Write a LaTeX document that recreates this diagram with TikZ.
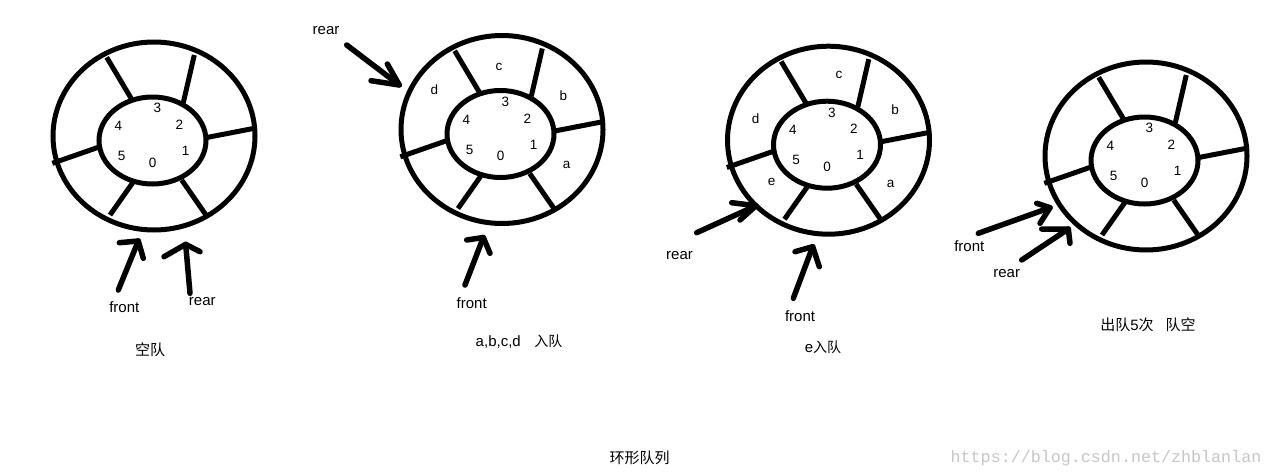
\documentclass[tikz,border=0pt]{standalone}
\usepackage{fontspec}
\setmainfont{Liberation Sans}
\newfontfamily\cjk{Noto Sans CJK SC}
\newfontfamily\wmfont{Liberation Mono}
\newcommand\ringdraw[3]{%
  \begin{scope}[shift={(#2,#3)}]
    \draw[ringline] (154,136) ellipse [x radius=101, y radius=94];
    \draw[ringline] (152.5,140.5) ellipse [x radius=53.5, y radius=43.5];
    \draw[spoke] (106.7,57.3) -- (132.7,101);
    \draw[spoke] (194.3,55) -- (183.3,102.7);
    \draw[spoke] (205.7,137.7) -- (254.3,128.3);
    \draw[spoke] (52.3,163.3) -- (100,146.7);
    \draw[spoke] (132.7,182.7) -- (110,215);
    \draw[spoke] (181.7,180) -- (206,215);
    \node[num] (#1-3) at (157.3,108.3) {3};
    \node[num] (#1-4) at (118.3,126) {4};
    \node[num] (#1-2) at (179.3,125) {2};
    \node[num] (#1-1) at (185.7,151) {1};
    \node[num] (#1-5) at (121.7,156) {5};
    \node[num] (#1-0) at (152.7,162.7) {0};
  \end{scope}}
\newcommand\hdarrow[1]{%
  \draw[arrowline] (#1-tail) -- (#1-tip);
  \draw[arrowline] (#1-a1) -- (#1-tip) -- (#1-a2);}
\begin{document}
\begin{tikzpicture}[x=1pt,y=-1pt,
  ringline/.style={line width=5pt},
  spoke/.style={line width=5pt},
  arrowline/.style={line width=5.5pt, line join=round, line cap=round},
  num/.style={font=\fontsize{13.5}{16}\selectfont, inner sep=0pt},
  lbl/.style={font=\fontsize{15}{18}\selectfont, inner sep=0pt},
  captxt/.style={font=\fontsize{15}{18}\selectfont, inner sep=0pt},
  wm/.style={font=\wmfont\fontsize{16.7}{20}\selectfont, text=black!22, inner sep=0pt}]
\fill[white] (0,0) rectangle (1271,474);
\path[use as bounding box] (0,0) rectangle (1271,474);

% rings
\ringdraw{r1}{0}{0}
\ringdraw{r2}{348}{-6.5}
\ringdraw{r3}{674.5}{4.2}
\ringdraw{r4}{992}{20}

% letters in ring 2
\node[num] (r2-c) at (499,67.3) {c};
\node[num] (r2-d) at (434.3,90) {d};
\node[num] (r2-b) at (563.3,96) {b};
\node[num] (r2-a) at (566.7,165) {a};
% letters in ring 3
\node[num] (r3-c) at (839,75) {c};
\node[num] (r3-b) at (895,110) {b};
\node[num] (r3-d) at (755.7,119) {d};
\node[num] (r3-e) at (771.7,181.7) {e};
\node[num] (r3-a) at (890.7,184) {a};

% arrow coordinates
\coordinate (f1-tail) at (118.3,290);   \coordinate (f1-tip) at (138.3,241);
\coordinate (f1-a1) at (119.3,242.7);   \coordinate (f1-a2) at (143.3,258.3);
\coordinate (q1-tail) at (190,293.3);   \coordinate (q1-tip) at (185.7,244.3);
\coordinate (q1-a1) at (164,256.7);     \coordinate (q1-a2) at (200,251.7);
\coordinate (q2-tail) at (346.7,45);    \coordinate (q2-tip) at (399.3,85);
\coordinate (q2-a1) at (371,80.7);      \coordinate (q2-a2) at (387.3,64);
\coordinate (f2-tail) at (465,285);     \coordinate (f2-tip) at (483.3,237.5);
\coordinate (f2-a1) at (466.7,240);     \coordinate (f2-a2) at (490,253.3);
\coordinate (q3-tail) at (696.7,232.7); \coordinate (q3-tip) at (756,205.7);
\coordinate (q3-a1) at (731.7,202.7);   \coordinate (q3-a2) at (740,220);
\coordinate (f3-tail) at (793.3,298.3); \coordinate (f3-tip) at (812.7,246.7);
\coordinate (f3-a1) at (795,251.7);     \coordinate (f3-a2) at (819.3,266.7);
\coordinate (f4-tail) at (978.3,233.3); \coordinate (f4-tip) at (1050,207.7);
\coordinate (f4-a1) at (1036.7,203.3);  \coordinate (f4-a2) at (1040,223.3);
\coordinate (q4-tail) at (1021.7,260);  \coordinate (q4-tip) at (1068.3,229);
\coordinate (q4-a1) at (1041.7,229);    \coordinate (q4-a2) at (1070,243.3);

\hdarrow{f1}\hdarrow{q1}\hdarrow{q2}\hdarrow{f2}
\hdarrow{q3}\hdarrow{f3}\hdarrow{f4}\hdarrow{q4}

% labels
\node[lbl] (lf1) at (124.3,307.3) {front};
\node[lbl] (lq1) at (202.3,301.7) {rear};
\node[lbl] (lq2) at (326,31) {rear};
\node[lbl] (lf2) at (471.7,303.3) {front};
\node[lbl] (lq3) at (679.5,256) {rear};
\node[lbl] (lf3) at (800,316) {front};
\node[lbl] (lf4) at (969.3,246) {front};
\node[lbl] (lq4) at (1006.7,274) {rear};

% captions
\node[captxt] (c1) at (150,350) {\cjk 空队};
\node[captxt] (c2) at (519,342) {a,b,c,d\hspace{0.9em}{\cjk\fontsize{14}{17}\selectfont 入队}};
\node[captxt] (c3) at (823,347) {e{\cjk\fontsize{14}{17}\selectfont 入队}};
\node[captxt] (c4) at (1148,325) {{\cjk 出队}5{\cjk 次}\hspace{0.8em}{\cjk 队空}};
\node[captxt] (c5) at (639.5,458) {\cjk 环形队列};
\node[wm] (wm) at (1106,458) {https://blog.csdn.net/zhblanlan};
\end{tikzpicture}
\end{document}
